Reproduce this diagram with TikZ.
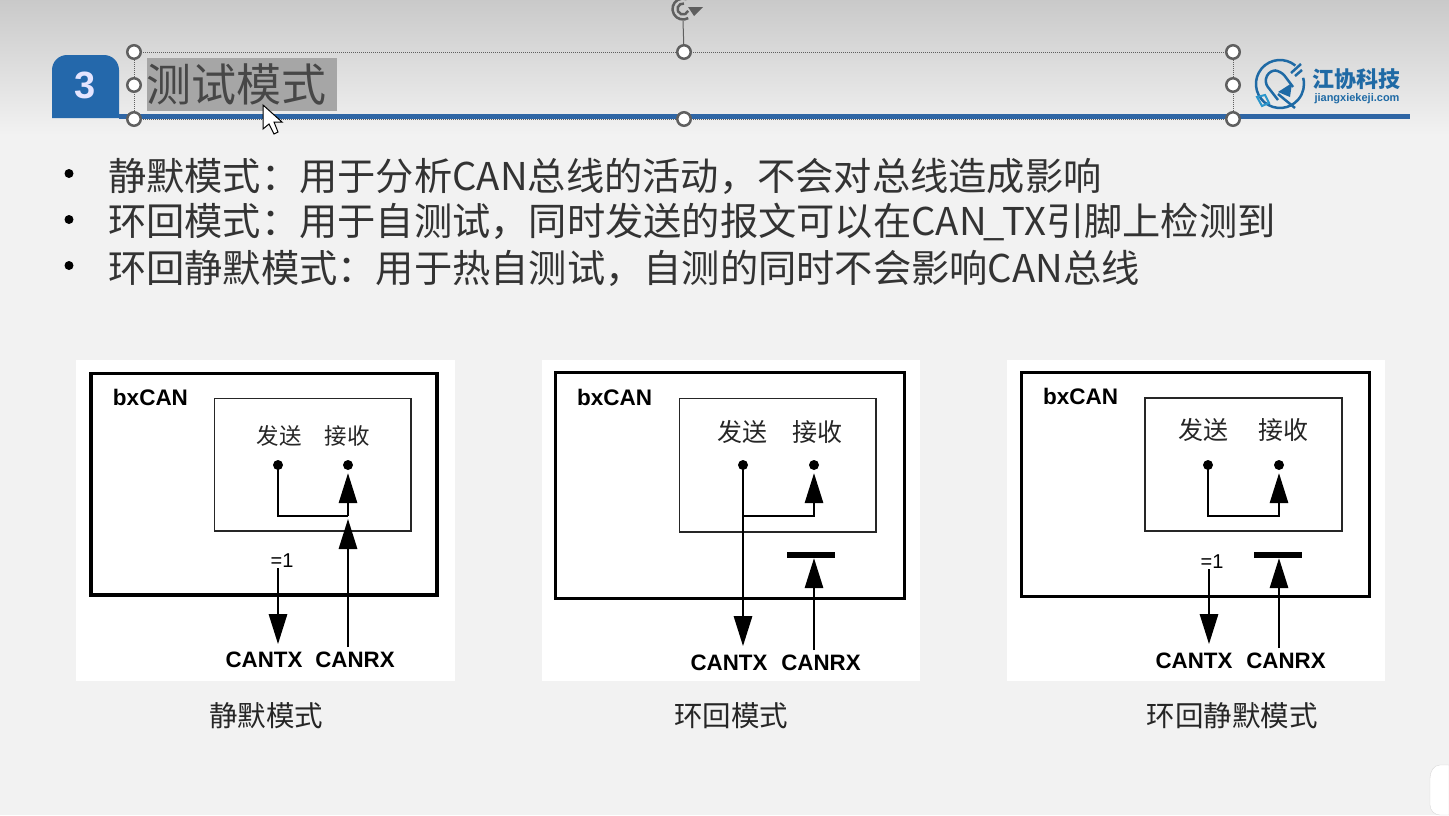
\documentclass[tikz,border=0pt]{standalone}
\usepackage{fontspec}
\usepackage{xcolor}
\setmainfont{Liberation Sans}
\newfontfamily\cjkfont{Noto Sans CJK SC}
\usetikzlibrary{arrows.meta}
\definecolor{slideblue}{HTML}{2468AB}
\definecolor{rulerblue}{HTML}{2F66A5}
\definecolor{handlegray}{HTML}{5F5F5F}
\definecolor{logoblue}{HTML}{1F6AA5}
\definecolor{logolight}{HTML}{2C97CC}
\definecolor{pagegray}{HTML}{F2F2F2}
\begin{document}
\begin{tikzpicture}[x=1pt, y=-1pt,
                    title/.style={inner sep=0pt, font=\cjkfont\fontsize{45}{45}\selectfont, text=black!72},
                    bullettext/.style={anchor=west, inner sep=0pt, font=\cjkfont\fontsize{38.25}{38.25}\selectfont, text=black!80},
                    bulletdot/.style={circle, fill=black, inner sep=0pt, minimum size=9pt},
                    caption/.style={inner sep=0pt, font=\cjkfont\fontsize{28.5}{28.5}\selectfont, text=black!85},
                    outerbox/.style={draw=black, line width=3.5pt},
                    innerbox/.style={draw=black!85, line width=1.5pt},
                    boxname/.style={inner sep=0pt, font=\bfseries\fontsize{22.5}{22.5}\selectfont},
                    pin/.style={inner sep=0pt, font=\bfseries\fontsize{22.3}{22.3}\selectfont},
                    func/.style={inner sep=0pt, text=black!85},
                    mark1/.style={inner sep=0pt, font=\fontsize{20}{20}\selectfont},
                    dot/.style={circle, fill=black, inner sep=0pt, minimum size=10pt},
                    wire/.style={draw=black, line width=1.5pt},
                    bigarrow/.style={wire, -{Triangle[length=30pt, width=18.5pt]}},
                    blocker/.style={fill=black, inner sep=0pt, minimum width=48pt, minimum height=6pt},
                    handle/.style={circle, draw=handlegray, fill=white, line width=2.5pt, inner sep=0pt, minimum size=13.5pt},
                    selection/.style={draw=handlegray, line width=1pt, densely dotted}]
  \useasboundingbox (0,0) rectangle (1449,815);
  \fill[pagegray] (0,0) rectangle (1449,815);
  \shade[top color=black!21, bottom color=pagegray] (0,0) rectangle (1449,135);
  \fill[white, draw=black!15] (1449,765) -- (1440,765) to[out=180, in=90] (1430,778) -- (1430,805) to[out=-90, in=180] (1440,815) -- (1449,815) -- cycle;

  \fill[slideblue] (52,118) -- (52,70) to[out=90, in=180] (67,55) -- (104,55) to[out=0, in=90] (119,70) -- (119,118) -- cycle;
  \node[inner sep=0pt, text=white!90!blue, font=\bfseries\fontsize{38}{38}\selectfont] (num) at (85,85) {3};
  \fill[rulerblue] (119,114) rectangle (1410,118.5);
  \node[title, fill=black!35, text width=190pt, minimum height=53pt, align=left] (head) at (241.5,84.5) {测试模式};

  \coordinate (nw) at (134,52);
  \coordinate (ne) at (1233,52);
  \coordinate (sw) at (134,119);
  \coordinate (se) at (1233,119);
  \draw[selection] (nw) rectangle (se);
  \node[circle, inner sep=0pt, minimum size=24pt] (rotor) at (683,9) {};
  \draw[handlegray, line width=2.5pt] (rotor.center) ++(-60:10.5pt) arc[start angle=-60, end angle=-290, radius=10.5pt];
  \draw[handlegray, line width=2.5pt] (rotor.center) ++(-20:5.5pt) arc[start angle=-20, end angle=-280, radius=5.5pt];
  \fill[handlegray] (688,7) -- (703,7) -- (694,16) -- cycle;
  \node[handle] (hn) at (684,52) {};
  \draw[handlegray, line width=1pt] (rotor.south) -- (hn);
  \node[handle] at (nw) {};
  \node[handle] at (ne) {};
  \node[handle] at (sw) {};
  \node[handle] at (se) {};
  \node[handle] at (134,85) {};
  \node[handle] at (1233,85) {};
  \node[handle] at (684,119) {};
  \draw[fill=white, draw=black, line width=1pt] (263,105) -- (263,129) -- (269,124) -- (274,134) -- (278,132) -- (274,122) -- (282,122) -- cycle;

  \draw[logoblue, line width=2.5pt] (1295.4,65.6) arc[start angle=50, end angle=375, radius=24pt];
  \draw[logoblue, line width=2.5pt, rounded corners=6pt] (1278,100) -- (1264,82) -- (1270,70) -- (1281,71) -- (1293,87);
  \draw[logoblue, line width=2.5pt] (1278,94) -- (1295,108);
  \draw[logoblue, line width=2.5pt] (1291,73) -- (1301,64) (1295,76) -- (1302,70);
  \fill[logoblue] (1278,92) -- (1292,83) -- (1290,97) -- cycle;
  \draw[logolight, line width=2pt] (1257,97) -- (1265,95) -- (1269,103) -- (1262,106) -- cycle;
  \node[inner sep=0pt, text=logoblue, font=\cjkfont\bfseries\fontsize{22}{22}\selectfont] (brand) at (1356.5,79) {江协科技};
  \node[inner sep=0pt, text=logoblue, font=\bfseries\fontsize{11}{11}\selectfont] (site) at (1357,99) {jiangxiekeji.com};

  \node[bulletdot] at (69,173.5) {};
  \node[bulletdot] at (69,219.5) {};
  \node[bulletdot] at (69,265.5) {};
  \node[bullettext] (lineone) at (108,176) {静默模式：用于分析CAN总线的活动，不会对总线造成影响};
  \node[bullettext] (linetwo) at (108,222) {环回模式：用于自测试，同时发送的报文可以在CAN\kern-3pt\_\kern-3pt TX引脚上检测到};
  \node[bullettext] (linethree) at (108,268) {环回静默模式：用于热自测试，自测的同时不会影响CAN总线};

  \fill[white] (76,360) rectangle (455,681);
  \draw[outerbox] (91,373.5) rectangle (437,595);
  \draw[innerbox] (214.5,398.5) rectangle (411,531);
  \node[boxname] (cana) at (150.5,397) {bxCAN};
  \node[func, font=\cjkfont\fontsize{22.5}{22.5}\selectfont] (senda) at (279,436) {发送};
  \node[func, font=\cjkfont\fontsize{22.5}{22.5}\selectfont] (recva) at (347,436) {接收};
  \node[dot] (txa) at (278,465) {};
  \node[dot] (rxa) at (348,465) {};
  \coordinate (joina) at (348,516);
  \coordinate (hita) at (348,519);
  \node[mark1] (onea) at (282,561) {=1};
  \node[pin] (cantxa) at (264,660) {CANTX};
  \node[pin] (canrxa) at (355,660) {CANRX};
  \coordinate (txenda) at (278,644);
  \coordinate (rxenda) at (348,647);
  \draw[wire] (txa.center) |- (joina);
  \draw[bigarrow, shorten >=3pt] (joina) -- (rxa);
  \draw[bigarrow] (rxenda) -- (hita);
  \draw[bigarrow] (onea.south -| txa) -- (txenda);
  \node[caption] (labela) at (266,716) {静默模式};

  \fill[white] (542,360) rectangle (920,681);
  \draw[outerbox, line width=3pt] (555.5,372) rectangle (904,598.5);
  \draw[innerbox] (679.5,398.5) rectangle (876,532);
  \node[boxname] (canb) at (614.5,397) {bxCAN};
  \node[func, font=\cjkfont\fontsize{25}{25}\selectfont] (sendb) at (742,432) {发送};
  \node[func, font=\cjkfont\fontsize{25}{25}\selectfont] (recvb) at (817,432) {接收};
  \node[dot] (txb) at (743,465) {};
  \node[dot] (rxb) at (814,465) {};
  \coordinate (joinb) at (743,516);
  \coordinate (bendb) at (814,516);
  \node[blocker] (stopb) at (811,555) {};
  \node[pin] (cantxb) at (729,663) {CANTX};
  \node[pin] (canrxb) at (821,663) {CANRX};
  \coordinate (txendb) at (743,646);
  \coordinate (rxendb) at (814,650);
  \draw[bigarrow] (txb.center) -- (txendb);
  \draw[bigarrow, shorten >=3pt] (joinb) -- (bendb) -- (rxb);
  \draw[bigarrow] (rxendb) -- (stopb.south -| rxendb);
  \node[caption] (labelb) at (731,716) {环回模式};

  \fill[white] (1007,360) rectangle (1385,681);
  \draw[outerbox, line width=3pt] (1021,372) rectangle (1369,596);
  \draw[innerbox] (1145,398) rectangle (1342,531);
  \node[boxname] (canc) at (1080.5,396) {bxCAN};
  \node[func, font=\cjkfont\fontsize{25}{25}\selectfont] (sendc) at (1203,430) {发送};
  \node[func, font=\cjkfont\fontsize{25}{25}\selectfont] (recvc) at (1283,430) {接收};
  \node[dot] (txc) at (1208,465) {};
  \node[dot] (rxc) at (1279,465) {};
  \coordinate (cornerc) at (1208,516);
  \coordinate (bendc) at (1279,516);
  \node[mark1] (onec) at (1212,562) {=1};
  \node[blocker] (stopc) at (1278,555) {};
  \node[pin] (cantxc) at (1194,661) {CANTX};
  \node[pin] (canrxc) at (1286,661) {CANRX};
  \coordinate (txendc) at (1209,644);
  \coordinate (rxendc) at (1279,648);
  \draw[bigarrow, shorten >=3pt] (txc.center) -- (cornerc) -- (bendc) -- (rxc);
  \draw[bigarrow] (onec.south -| txendc) -- (txendc);
  \draw[bigarrow] (rxendc) -- (stopc.south -| rxendc);
  \node[caption] (labelc) at (1232,716) {环回静默模式};
\end{tikzpicture}
\end{document}
